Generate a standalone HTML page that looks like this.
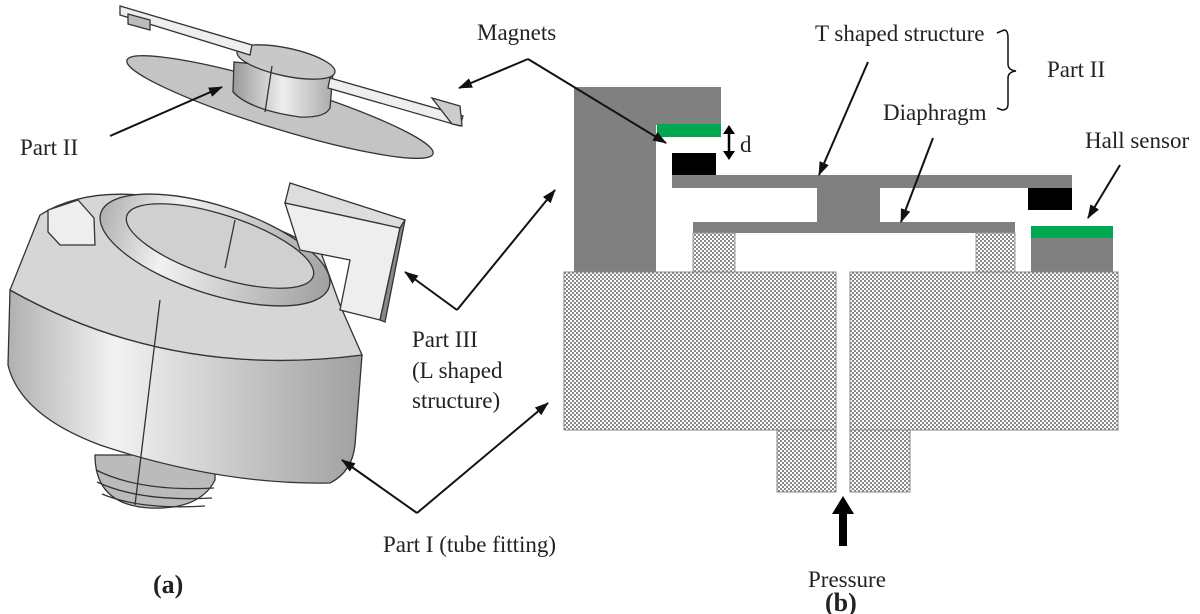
<!DOCTYPE html>
<html><head><meta charset="utf-8"><style>
html,body{margin:0;padding:0;background:#fff}
svg{display:block}
svg text{font-family:"Liberation Serif","DejaVu Serif",serif;font-size:23px;fill:#222}
</style></head><body>
<svg width="1200" height="614" viewBox="0 0 1200 614" xmlns="http://www.w3.org/2000/svg" font-family="Liberation Serif, serif">
<defs>
<pattern id="h" width="4" height="4" patternUnits="userSpaceOnUse">
<rect width="4" height="4" fill="#fff"/><rect width="2" height="2" fill="#888"/><rect x="2" y="2" width="2" height="2" fill="#888"/>
</pattern>
<linearGradient id="g1" x1="0" x2="1">
<stop offset="0" stop-color="#b0b0b0"/><stop offset="0.3" stop-color="#f2f2f2"/><stop offset="0.65" stop-color="#c8c8c8"/><stop offset="1" stop-color="#a0a0a0"/>
</linearGradient>
<linearGradient id="g2" x1="0" x2="1">
<stop offset="0" stop-color="#999"/><stop offset="0.5" stop-color="#eee"/><stop offset="1" stop-color="#aaa"/>
</linearGradient>
<marker id="a" markerWidth="14" markerHeight="10" refX="13" refY="5" orient="auto" markerUnits="userSpaceOnUse">
<path d="M0,0 L14,5 L0,10 Z" fill="#111"/></marker>
</defs>

<g stroke="#333" stroke-width="1.3">
<ellipse cx="280" cy="107" rx="160" ry="22" transform="rotate(17 280 107)" fill="#c4c4c4"/>
<path d="M234,62 L233,92 Q250,110 300,117 Q325,118 330,108 L333,72 Z" fill="url(#g2)"/>
<ellipse cx="286" cy="62" rx="50" ry="14" transform="rotate(12 286 62)" fill="#c8c8c8"/>
<line x1="272" y1="66" x2="265" y2="112"/>
<path d="M120,6 L252,45 L250,55 L120,15 Z" fill="#eee"/>
<path d="M330,78 L463,116 L460,126 L328,88 Z" fill="#eee"/>
<path d="M128,14 L150,20 L150,30 L128,24 Z" fill="#bbb"/>
<path d="M432,98 L460,106 L462,126 L452,124 Z" fill="#ccc"/>
</g>
<g stroke="#333" stroke-width="1.3">
<path d="M95,455 Q95,505 150,508 Q200,510 215,480 L215,455 Z" fill="#bbb"/>
<path d="M96,470 Q140,492 214,488 M97,482 Q140,502 212,498 M102,494 Q140,510 205,506" fill="none"/>
<path d="M10,290 L8,365 Q20,415 100,445 Q220,485 330,483 Q352,472 355,445 L362,355 Q170,380 10,290 Z" fill="url(#g1)"/>
<path d="M10,290 L40,215 Q80,190 140,195 Q240,205 320,250 L340,305 L362,355 Q170,380 10,290 Z" fill="#d6d6d6"/>
<ellipse cx="215" cy="250" rx="120" ry="44" transform="rotate(18 215 250)" fill="url(#g1)"/>
<ellipse cx="220" cy="246" rx="98" ry="31" transform="rotate(18 220 246)" fill="#d0d0d0"/>
<path d="M48,210 L78,200 L94,218 L95,245 L60,245 L48,232 Z" fill="#eee"/>
<path d="M290,183 L405,220 L400,228 L285,203 Z" fill="#ddd"/>
<path d="M285,203 L400,228 L380,320 L340,310 L350,260 L300,250 Z" fill="#eee"/>
<path d="M400,228 L405,220 L385,322 L380,320 Z" fill="#888"/>
<line x1="160" y1="300" x2="135" y2="505"/>
<line x1="235" y1="220" x2="225" y2="268"/>
</g>

<g>
<rect x="574" y="87" width="147" height="38" fill="#808080"/>
<rect x="574" y="87" width="82" height="186" fill="#808080"/>
<rect x="657" y="124" width="64" height="13" fill="#00a84f"/>
<rect x="672" y="153" width="44" height="23" fill="#000"/>
<rect x="672" y="175" width="400" height="13" fill="#808080"/>
<rect x="817" y="187" width="63" height="36" fill="#808080"/>
<rect x="693" y="222" width="322" height="11" fill="#808080"/>
<rect x="1028" y="188" width="44" height="22" fill="#000"/>
<rect x="693" y="233" width="42" height="39" fill="url(#h)" stroke="#999"/>
<rect x="976" y="233" width="39" height="39" fill="url(#h)" stroke="#999"/>
<rect x="1031" y="226" width="82" height="46" fill="#808080"/>
<rect x="1031" y="226" width="82" height="12" fill="#00a84f"/>
<rect x="564" y="272" width="272" height="158" fill="url(#h)" stroke="#888"/>
<rect x="850" y="272" width="268" height="158" fill="url(#h)" stroke="#888"/>
<rect x="777" y="430" width="59" height="62" fill="url(#h)" stroke="#888"/>
<rect x="850" y="430" width="60" height="62" fill="url(#h)" stroke="#888"/>
<rect x="839" y="512" width="8" height="34" fill="#000"/>
<path d="M832,514 L843,496 L854,514 Z" fill="#000"/>
<line x1="729" y1="130" x2="729" y2="154" stroke="#000" stroke-width="2.5"/>
<path d="M723,134 L729,125 L735,134 Z M723,151 L729,160 L735,151 Z" fill="#000"/>
</g>

<g stroke="#111" stroke-width="2" fill="none">
<line x1="110" y1="136" x2="222" y2="87" marker-end="url(#a)"/>
<line x1="528" y1="59" x2="459" y2="88" marker-end="url(#a)"/>
<line x1="528" y1="59" x2="666" y2="143" marker-end="url(#a)"/>
<line x1="868" y1="62" x2="819" y2="175" marker-end="url(#a)"/>
<line x1="933" y1="138" x2="901" y2="222" marker-end="url(#a)"/>
<line x1="1120" y1="165" x2="1088" y2="218" marker-end="url(#a)"/>
<line x1="457" y1="310" x2="405" y2="272" marker-end="url(#a)"/>
<line x1="457" y1="310" x2="555" y2="190" marker-end="url(#a)"/>
<line x1="417" y1="513" x2="342" y2="460" marker-end="url(#a)"/>
<line x1="417" y1="513" x2="548" y2="403" marker-end="url(#a)"/>
<path d="M997,33 L1004,30 Q1008,30 1008,38 L1008,64 Q1008,70 1016,71 Q1008,72 1008,78 L1008,104 Q1008,110 1002,110 L997,108" stroke-width="1.5"/>
</g>

<text x="477" y="40">Magnets</text>
<text x="815" y="41">T shaped structure</text>
<text x="1047" y="77">Part II</text>
<text x="883" y="120">Diaphragm</text>
<text x="1085" y="148">Hall sensor</text>
<text x="740" y="152">d</text>
<text x="20" y="155">Part II</text>
<text x="412" y="347">Part III</text>
<text x="412" y="378">(L shaped</text>
<text x="412" y="408">structure)</text>
<text x="383" y="552">Part I (tube fitting)</text>
<text x="808" y="587">Pressure</text>
<text x="153" y="593" style="font-weight:bold;font-size:26px">(a)</text>
<text x="825" y="611" style="font-weight:bold;font-size:26px">(b)</text>
</svg>
</body></html>
